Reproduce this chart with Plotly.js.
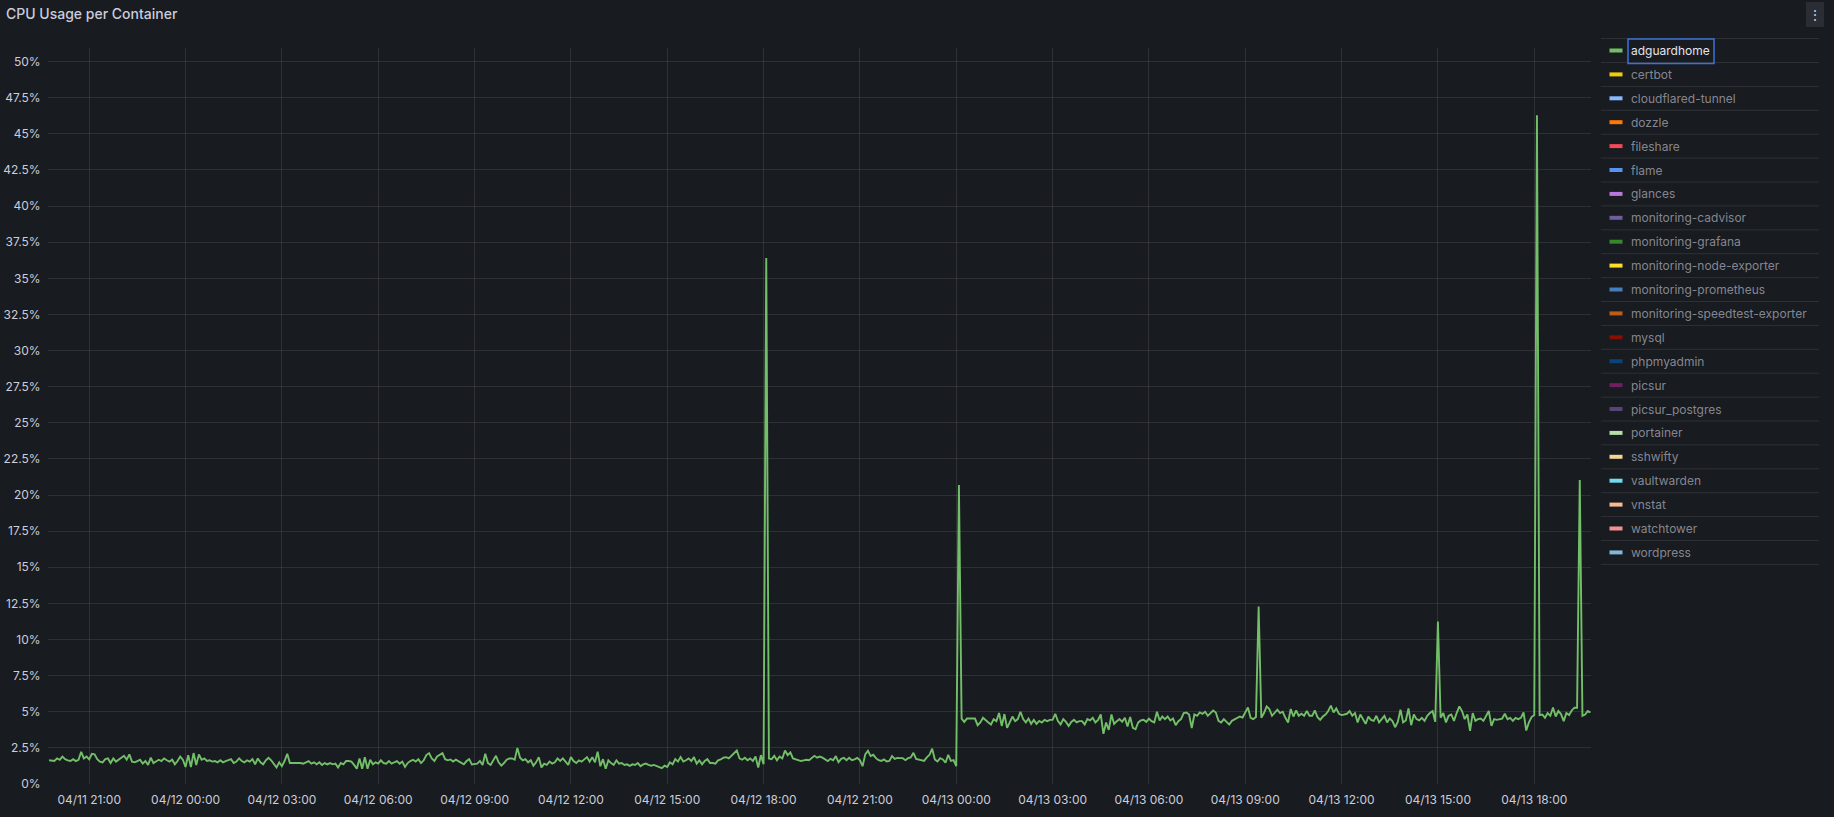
<!DOCTYPE html>
<html>
<head>
<meta charset="utf-8">
<script src="https://cdn.plot.ly/plotly-3.0.1.min.js"></script>
<style>
  html, body { margin: 0; padding: 0; background: #181b1f; }
  #chart { width: 1834px; height: 817px; }
</style>
</head>
<body>
<div id="chart"></div>
<script>
// ---------- DATA ----------
const panelTitle = 'CPU Usage per Container';
const seriesName = 'adguardhome';
const startTime = '2024-04-11T19:45:00Z';
const stepMinutes = 5;
// adguardhome CPU usage (%), one row per hour, 5-minute samples
const adguardhomeCpu = [
  1.64,1.64,1.59,1.77,1.68,1.90,1.72,1.64,1.59,1.72,1.59,1.68,
  2.23,1.77,1.90,1.70,2.09,2.05,1.72,1.55,1.50,1.72,1.77,1.45,
  1.77,1.55,1.68,1.82,1.95,1.68,2.05,1.55,1.50,1.59,1.68,1.41,
  1.59,1.32,1.82,1.45,1.59,1.68,1.59,1.77,1.64,1.55,1.68,1.36,
  1.59,1.90,1.68,1.18,2.00,1.18,2.14,1.32,2.05,1.68,1.77,1.59,
  1.64,1.55,1.59,1.50,1.64,1.50,1.59,1.64,1.72,1.45,1.55,1.77,
  1.59,1.50,1.64,1.55,1.72,1.36,1.77,1.50,1.36,1.64,1.82,1.64,
  1.41,1.14,1.50,1.23,1.59,2.09,1.45,1.45,1.48,1.45,1.45,1.41,
  1.48,1.59,1.41,1.50,1.36,1.50,1.32,1.45,1.36,1.45,1.36,1.41,
  1.14,1.45,1.36,1.59,1.59,1.55,1.32,1.05,1.77,1.05,1.86,1.05,
  1.68,1.36,1.50,1.41,1.64,1.45,1.41,1.59,1.41,1.50,1.59,1.41,
  1.55,1.18,1.45,1.59,1.68,1.55,1.72,1.45,1.64,2.00,2.14,1.77,
  1.59,1.90,2.05,2.14,1.72,1.64,1.70,1.55,1.68,1.59,1.45,1.36,
  1.59,1.72,1.36,1.36,1.41,1.59,1.32,2.09,1.45,1.32,1.68,1.95,
  1.50,1.27,1.45,1.68,1.77,1.77,1.68,2.50,1.82,1.64,1.72,1.50,
  1.64,1.27,1.50,1.86,1.14,1.41,1.32,1.55,1.41,1.50,1.77,1.59,
  1.77,1.50,1.32,1.86,1.59,1.45,1.64,1.55,1.68,1.86,1.55,1.86,
  1.50,2.23,1.23,1.72,1.05,1.64,1.45,1.32,1.64,1.41,1.45,1.32,
  1.36,1.25,1.36,1.32,1.45,1.23,1.36,1.41,1.32,1.27,1.32,1.23,
  1.18,1.09,1.27,1.18,1.50,1.36,1.72,1.55,1.86,1.55,1.64,1.77,
  1.59,1.86,1.41,1.64,1.36,1.59,1.72,1.45,1.45,1.41,1.64,1.70,
  1.82,1.86,1.77,1.95,2.09,2.32,1.77,1.68,1.82,1.64,1.77,1.59,
  1.90,1.14,2.00,1.36,36.40,1.77,1.72,1.95,1.64,1.90,1.77,2.32,
  2.00,2.18,1.77,1.72,1.68,1.59,1.64,1.68,1.64,1.77,1.95,1.82,
  1.90,1.82,1.70,1.58,1.74,1.65,1.93,1.51,1.74,1.81,1.65,1.81,
  1.65,1.70,1.81,1.65,1.23,2.05,2.30,1.93,2.02,1.79,1.65,1.60,
  1.70,1.56,1.60,1.93,1.74,1.81,1.79,1.79,1.65,1.79,1.84,2.16,
  1.74,1.70,1.65,1.60,1.84,2.02,2.44,1.70,1.56,1.79,1.70,1.47,
  2.02,1.60,1.65,1.23,20.70,4.53,4.30,4.53,4.53,4.53,4.53,4.07,
  4.26,4.58,4.40,4.26,4.12,4.49,4.35,4.91,4.02,4.84,3.88,4.30,
  4.67,4.35,4.49,5.00,4.49,4.26,4.53,4.16,4.44,4.16,4.37,4.26,
  4.44,4.35,4.44,4.44,4.86,4.35,4.12,4.49,4.30,4.02,4.30,4.44,
  4.26,4.35,4.35,4.12,4.49,4.40,4.58,4.26,4.44,4.81,3.47,4.26,
  3.74,4.81,4.16,4.35,4.49,4.30,4.58,3.98,4.63,3.88,3.79,4.26,
  4.40,4.44,4.30,4.53,4.35,4.26,5.00,4.40,4.67,4.49,4.67,4.40,
  4.53,4.07,4.35,4.49,4.91,4.95,4.81,3.88,4.81,4.72,4.95,4.86,
  5.00,4.72,4.91,5.09,4.95,4.37,4.26,4.49,4.30,4.12,4.37,4.49,
  4.58,4.67,4.60,4.91,5.30,4.58,4.49,4.63,12.29,4.58,4.91,5.37,
  5.19,4.72,4.91,5.14,4.91,5.00,4.58,4.26,5.19,4.67,5.09,4.72,
  4.86,4.72,5.05,4.72,4.72,5.09,4.63,4.44,4.67,4.81,5.05,5.42,
  4.95,5.23,4.86,4.77,4.81,4.86,5.05,4.72,4.91,4.26,4.81,4.49,
  4.16,4.67,4.44,4.37,4.72,4.26,4.49,4.72,4.26,4.53,4.35,3.93,
  4.30,5.14,4.26,4.40,5.23,4.07,4.81,4.49,4.40,4.58,4.37,4.72,
  4.91,5.05,4.30,11.25,4.58,4.91,4.26,4.72,4.81,4.37,4.91,5.37,
  5.05,4.49,4.81,3.67,4.91,4.37,4.49,4.53,4.37,4.72,5.05,4.02,
  4.49,4.44,4.49,4.53,4.86,4.49,4.58,4.37,4.58,4.49,4.58,4.95,
  3.70,4.26,4.63,4.77,46.28,4.77,4.81,4.58,4.91,4.72,5.30,4.67,
  5.05,4.84,4.35,4.91,4.77,5.09,5.28,5.28,21.04,4.72,4.81,5.05,
  4.95
];
const containers = ['adguardhome','certbot','cloudflared-tunnel','dozzle','fileshare','flame','glances',
  'monitoring-cadvisor','monitoring-grafana','monitoring-node-exporter','monitoring-prometheus',
  'monitoring-speedtest-exporter','mysql','phpmyadmin','picsur','picsur_postgres','portainer',
  'sshwifty','vaultwarden','vnstat','watchtower','wordpress'];
const containerColors = ['#73bf69','#f2cc0c','#8ab8ff','#ff780a','#f2495c','#5794f2','#b877d9',
  '#705da0','#37872d','#fade2a','#447ebc','#c15c17','#890f02','#0a437c','#6d1f62','#584477','#b7dbab',
  '#f4d598','#70dbed','#f9ba8f','#f29191','#82b5d8'];
const xRange = ['2024-04-11 19:43', '2024-04-13 19:46'];

// ---------- BUILD ----------
function fmt(d) {
  const p = n => String(n).padStart(2, '0');
  return d.getUTCFullYear() + '-' + p(d.getUTCMonth() + 1) + '-' + p(d.getUTCDate()) + ' ' +
         p(d.getUTCHours()) + ':' + p(d.getUTCMinutes());
}
const t0 = new Date(startTime).getTime();
const times = adguardhomeCpu.map((_, i) => fmt(new Date(t0 + i * stepMinutes * 60000)));

const W = 1834, H = 817;
const M = {l: 48, r: 243, t: 48, b: 33};
const PW = W - M.l - M.r, PH = H - M.t - M.b;
const px = x => (x - M.l) / PW;
const py = y => (H - M.b - y) / PH;

const FONT = 'Inter, "Open Sans", sans-serif';
const TEXT = '#ccccdc';
const GRID = 'rgba(204,204,220,0.12)';

const shapes = [], annotations = [];

// legend (drawn from containers / containerColors)
const legTop = 50.5, legStep = 23.9;
shapes.push({type:'line', xref:'paper', yref:'paper', x0:px(1601), x1:px(1819),
  y0:py(legTop - 12), y1:py(legTop - 12), line:{color:GRID, width:1}});
containers.forEach((name, k) => {
  const yc = legTop + k * legStep;
  shapes.push({type:'line', xref:'paper', yref:'paper', x0:px(1609.5), x1:px(1622.5),
    y0:py(yc), y1:py(yc), line:{color:containerColors[k], width:4}});
  shapes.push({type:'line', xref:'paper', yref:'paper', x0:px(1601), x1:px(1819),
    y0:py(yc + 12), y1:py(yc + 12), line:{color:GRID, width:1}});
  annotations.push({xref:'paper', yref:'paper', x:px(1629), y:py(yc), xanchor:'left', yanchor:'middle',
    text:name, showarrow:false,
    font:{family:FONT, size:12, color: k === 0 ? '#e4e4ec' : 'rgba(204,204,220,0.62)'}});
});
// focus ring on the active legend item
shapes.push({type:'rect', xref:'paper', yref:'paper', x0:px(1628), x1:px(1714), y0:py(legTop - 11.5), y1:py(legTop + 13),
  line:{color:'#3d71d9', width:1.5}, fillcolor:'rgba(0,0,0,0)'});

// panel menu button
shapes.push({type:'rect', xref:'paper', yref:'paper', x0:px(1806), x1:px(1824), y0:py(2), y1:py(27),
  line:{width:0}, fillcolor:'#2a2d33'});
annotations.push({xref:'paper', yref:'paper', x:px(1815), y:py(14.5), xanchor:'center', yanchor:'middle',
  text:'⋮', showarrow:false, font:{family:FONT, size:14, color:TEXT}});

const trace = {
  type:'scatter', mode:'lines', name:seriesName,
  x: times, y: adguardhomeCpu,
  line:{color:containerColors[0], width:1.9},
  showlegend:false, hoverinfo:'x+y'
};

const layout = {
  width:W, height:H,
  paper_bgcolor:'#181b1f', plot_bgcolor:'#181b1f',
  margin:M,
  font:{family:FONT, size:12, color:TEXT},
  title:{text:panelTitle, x:6/W, xanchor:'left', xref:'container', y:1 - 14.5/H, yref:'container', yanchor:'middle',
    font:{family:FONT, size:14, color:TEXT, weight:500}},
  showlegend:false,
  xaxis:{type:'date', range:xRange, tickformat:'%m/%d %H:%M', dtick:3*3600*1000, tick0:'2024-04-11 00:00',
    showgrid:true, gridcolor:GRID, gridwidth:1, zeroline:false, showline:false,
    ticks:'outside', ticklen:5, tickcolor:'rgba(0,0,0,0)',
    tickfont:{family:FONT, size:12, color:TEXT}},
  yaxis:{range:[0, 50.94], dtick:2.5, tick0:0, ticksuffix:'%',
    showgrid:true, gridcolor:GRID, gridwidth:1, zeroline:false, showline:false,
    ticks:'outside', ticklen:4, tickcolor:'rgba(0,0,0,0)',
    tickfont:{family:FONT, size:12, color:TEXT}},
  shapes:shapes, annotations:annotations
};

Plotly.newPlot('chart', [trace], layout, {displayModeBar:false, staticPlot:true});
</script>
</body>
</html>
